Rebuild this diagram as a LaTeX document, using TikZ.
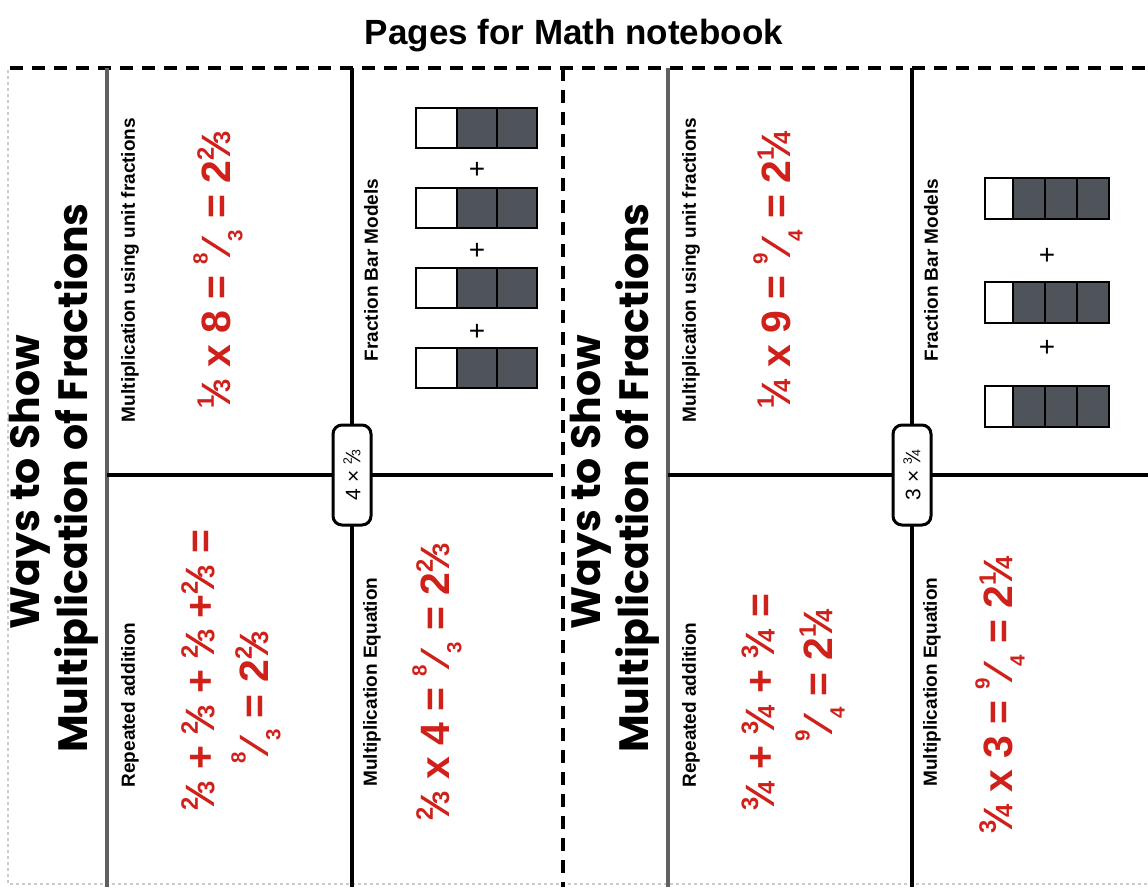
\documentclass[tikz,border=0pt]{standalone}
\usepackage{fontspec}
\setmainfont{Liberation Sans}
\newfontfamily\titlefont{Poppins}
\usetikzlibrary{shapes.misc}
\definecolor{eqred}{HTML}{D0201A}
\definecolor{cell}{HTML}{4F545B}
\newcommand\fr[2]{\raisebox{.4em}{\fontsize{.58em}{.6em}\selectfont #1}\kern-.05em⁄\kern-.05em{\fontsize{.58em}{.6em}\selectfont #2}}
\newcommand\frw[2]{\raisebox{.55em}{\fontsize{.5em}{.6em}\selectfont #1}\kern.05em⁄\kern.05em\raisebox{-.3em}{\fontsize{.5em}{.6em}\selectfont #2}}
\begin{document}
\begin{tikzpicture}[x=1pt,y=-1pt,
  eq/.style={rotate=90,text=eqred,font=\fontsize{41}{44}\selectfont\bfseries,inner sep=0},
  lab/.style={rotate=90,font=\fontsize{19}{21}\selectfont\bfseries,inner sep=0},
  ttl/.style={rotate=90,font=\titlefont\fontsize{41}{42}\selectfont\bfseries,inner sep=0},
  wc/.style={draw,line width=2.5pt,fill=white},
  dc/.style={draw,line width=2.5pt,fill=cell},
  plus/.style={font=\fontsize{28}{28}\selectfont,inner sep=0},
  tag/.style={draw,line width=3pt,fill=white,rounded corners=9pt,rotate=90,minimum width=100pt,minimum height=38pt,font=\fontsize{21}{22}\selectfont,inner sep=0},
  gline/.style={line width=4pt,gray!75!black},
  bline/.style={line width=4pt,black}]
\useasboundingbox (0,0) rectangle (1148,887);
\fill[white] (0,0) rectangle (1148,887);
\node[font=\fontsize{35}{36}\selectfont\bfseries] (title) at (574,36) {Pages for Math notebook};
% frame
\draw[gray!40,line width=1.5pt,dashed] (8,70) -- (8,884) -- (1148,884);
\draw[line width=4pt,dash pattern=on 13pt off 9pt] (10,68) -- (1148,68);
\draw[line width=4pt,dash pattern=on 13pt off 9pt] (563,68) -- (563,887);
% lines
\draw[gline] (107,68) -- (107,887);
\draw[bline] (107,475) -- (553,475);
\draw[bline] (352,68) -- (352,887);
\draw[gline] (668,68) -- (668,887);
\draw[bline] (668,475) -- (1148,475);
\draw[bline] (912,68) -- (912,887);
\node[tag] (tagA) at (352,475) {4 × \fr{2}{3}};
\node[tag] (tagB) at (912,475) {3 × \fr{3}{4}};
% titles
\foreach \dx/\n in {0/A,561/B}{
  \node[ttl] (ways\n) at (30+\dx,482) {Ways to Show};
  \node[ttl] (mult\n) at (77+\dx,478) {Multiplication of Fractions};
  \node[lab] (l1\n) at (130+\dx,270) {Multiplication using unit fractions};
  \node[lab] (l3\n) at (130+\dx,705) {Repeated addition};
}
\node[lab] (l2A) at (371,270) {Fraction Bar Models};
\node[lab] (l4A) at (372,682) {Multiplication Equation};
\node[lab] (l2B) at (931,270) {Fraction Bar Models};
\node[lab] (l4B) at (932,682) {Multiplication Equation};
% equations left
\node[eq] (e1A) at (218,270) {\fr{1}{3} x 8 = \frw{8}{3} = 2\fr{2}{3}};
\node[eq] (e2A) at (198,670) {\fr{2}{3} + \fr{2}{3} + \fr{2}{3} +\fr{2}{3} =};
\node[eq] (e3A) at (256,697) {\frw{8}{3} = 2\fr{2}{3}};
\node[eq] (e4A) at (437,682) {\fr{2}{3} x 4 = \frw{8}{3} = 2\fr{2}{3}};
% equations right
\node[eq] (e1B) at (778,270) {\fr{1}{4} x 9 = \frw{9}{4} = 2\fr{1}{4}};
\node[eq] (e2B) at (758,702) {\fr{3}{4} + \fr{3}{4} + \fr{3}{4} =};
\node[eq] (e3B) at (820,675) {\frw{9}{4} = 2\fr{1}{4}};
\node[eq] (e4B) at (1000,695) {\fr{3}{4} x 3 = \frw{9}{4} = 2\fr{1}{4}};
% bars left
\foreach \y/\i in {108/1,188/2,268/3,348/4}{
  \draw[wc] (416,\y) rectangle (457,\y+40);
  \draw[dc] (457,\y) rectangle (497,\y+40);
  \draw[dc] (497,\y) rectangle (537,\y+40);
}
\foreach \y/\i in {170/1,251/2,332/3}{\node[plus] (pA\i) at (477,\y) {+};}
% bars right
\foreach \y/\i in {178/1,282/2,386/3}{
  \draw[wc] (985,\y) rectangle (1013,\y+41);
  \draw[dc] (1013,\y) rectangle (1045,\y+41);
  \draw[dc] (1045,\y) rectangle (1077,\y+41);
  \draw[dc] (1077,\y) rectangle (1109,\y+41);
}
\foreach \y/\i in {256/1,348/2}{\node[plus] (pB\i) at (1047,\y) {+};}
\end{tikzpicture}
\end{document}
